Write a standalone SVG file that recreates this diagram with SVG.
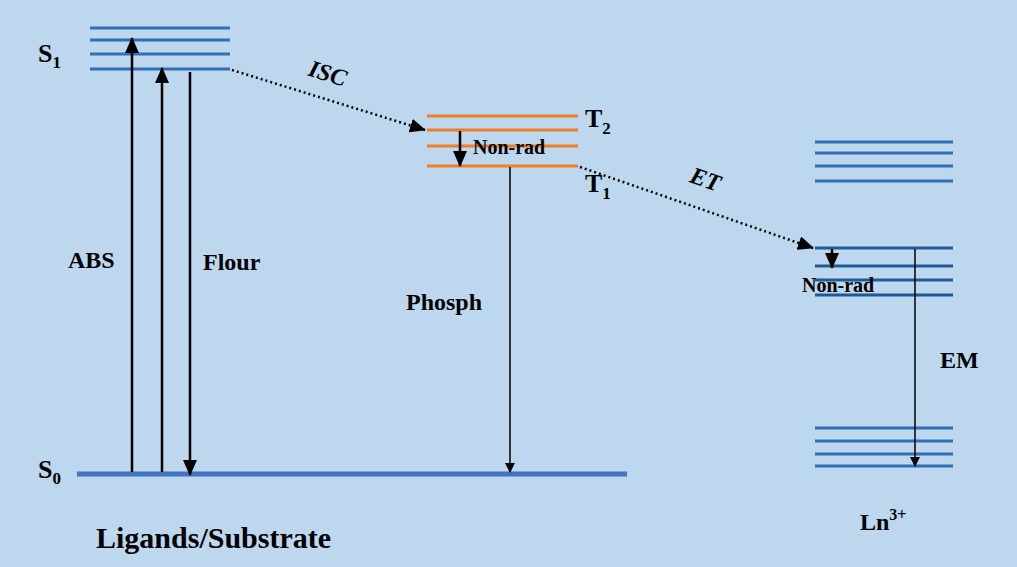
<svg xmlns="http://www.w3.org/2000/svg" width="1017" height="567" viewBox="0 0 1017 567">
<defs>
<marker id="a" markerWidth="10" markerHeight="10" refX="9" refY="5" orient="auto" markerUnits="userSpaceOnUse"><path d="M0,0L10,5L0,10z" fill="#000"/></marker>
<marker id="b" markerWidth="16" markerHeight="14" refX="15" refY="7" orient="auto" markerUnits="userSpaceOnUse"><path d="M0,0L16,7L0,14z" fill="#000"/></marker>
</defs>
<style>
.t{font-family:"Liberation Serif",serif;font-weight:bold;fill:#000}
.s{stroke:#2e6fb5;stroke-width:3}
.o{stroke:#f07d28;stroke-width:3}
.d{stroke:#1f5a92;stroke-width:3}
.ar{stroke:#000;stroke-width:2.5;marker-end:url(#b)}
.tn{stroke:#000;stroke-width:1.5;marker-end:url(#a)}
</style>
<rect width="1017" height="567" fill="#bdd7ee"/>
<g id="s1"><line class="s" x1="90" y1="28" x2="230" y2="28"/><line class="s" x1="90" y1="40" x2="230" y2="40"/><line class="s" x1="90" y1="54" x2="230" y2="54"/><line class="s" x1="90" y1="69" x2="230" y2="69"/>
<text class="t" x="38" y="62" font-size="26">S<tspan font-size="17" dy="6">1</tspan></text></g>
<g id="s0"><line x1="77" y1="474" x2="627" y2="474" stroke="#4472c4" stroke-width="5"/>
<text class="t" x="38" y="478" font-size="26">S<tspan font-size="17" dy="6">0</tspan></text></g>
<g id="t"><line class="o" x1="427" y1="116" x2="578" y2="116"/><line class="o" x1="427" y1="130" x2="578" y2="130"/><line class="o" x1="427" y1="146" x2="578" y2="146"/><line class="o" x1="427" y1="166" x2="578" y2="166"/>
<text class="t" x="585" y="127" font-size="26">T<tspan font-size="17" dy="7">2</tspan></text>
<text class="t" x="585" y="192" font-size="26">T<tspan font-size="17" dy="7">1</tspan></text>
<text class="t" x="473" y="154" font-size="20">Non-rad</text></g>
<g id="ln"><line class="s" x1="815" y1="142" x2="953" y2="142"/><line class="s" x1="815" y1="153" x2="953" y2="153"/><line class="s" x1="815" y1="166" x2="953" y2="166"/><line class="s" x1="815" y1="181" x2="953" y2="181"/>
<line class="d" x1="815" y1="248" x2="953" y2="248"/><line class="d" x1="815" y1="266" x2="953" y2="266"/><line class="d" x1="815" y1="280" x2="953" y2="280"/><line class="d" x1="815" y1="295" x2="953" y2="295"/>
<line class="s" x1="815" y1="428" x2="953" y2="428"/><line class="s" x1="815" y1="441" x2="953" y2="441"/><line class="s" x1="815" y1="454" x2="953" y2="454"/><line class="s" x1="815" y1="466" x2="953" y2="466"/>
<text class="t" x="802" y="292" font-size="20">Non-rad</text>
<text class="t" x="860" y="530" font-size="24">Ln<tspan font-size="16" dy="-10">3+</tspan></text></g>
<g id="connectors">
<line class="ar" x1="132" y1="472" x2="132" y2="38"/>
<line class="ar" x1="162" y1="472" x2="162" y2="68"/>
<line class="ar" x1="190" y1="72" x2="190" y2="475"/>
<line class="tn" x1="510" y1="167" x2="510" y2="472"/>
<line class="tn" x1="915" y1="249" x2="915" y2="466"/>
<line class="ar" x1="460" y1="131" x2="460" y2="166"/>
<line class="ar" x1="832" y1="249" x2="832" y2="268"/>
<line x1="232" y1="70" x2="425" y2="130" stroke="#000" stroke-width="2.5" stroke-dasharray="2,3" marker-end="url(#b)"/>
<line x1="580" y1="167" x2="813" y2="248" stroke="#000" stroke-width="2.5" stroke-dasharray="2,3" marker-end="url(#b)"/>
</g>
<g id="labels">
<text class="t" x="68" y="268" font-size="24">ABS</text>
<text class="t" x="203" y="270" font-size="24">Flour</text>
<text class="t" x="406" y="310" font-size="24">Phosph</text>
<text class="t" x="940" y="368" font-size="24">EM</text>
<text class="t" x="308" y="82" font-size="24" font-style="italic" transform="rotate(17 330 75)">ISC</text>
<text class="t" x="690" y="188" font-size="24" font-style="italic" transform="rotate(19 708 180)">ET</text>
<text class="t" x="96" y="548" font-size="30">Ligands/Substrate</text>
</g>
</svg>
